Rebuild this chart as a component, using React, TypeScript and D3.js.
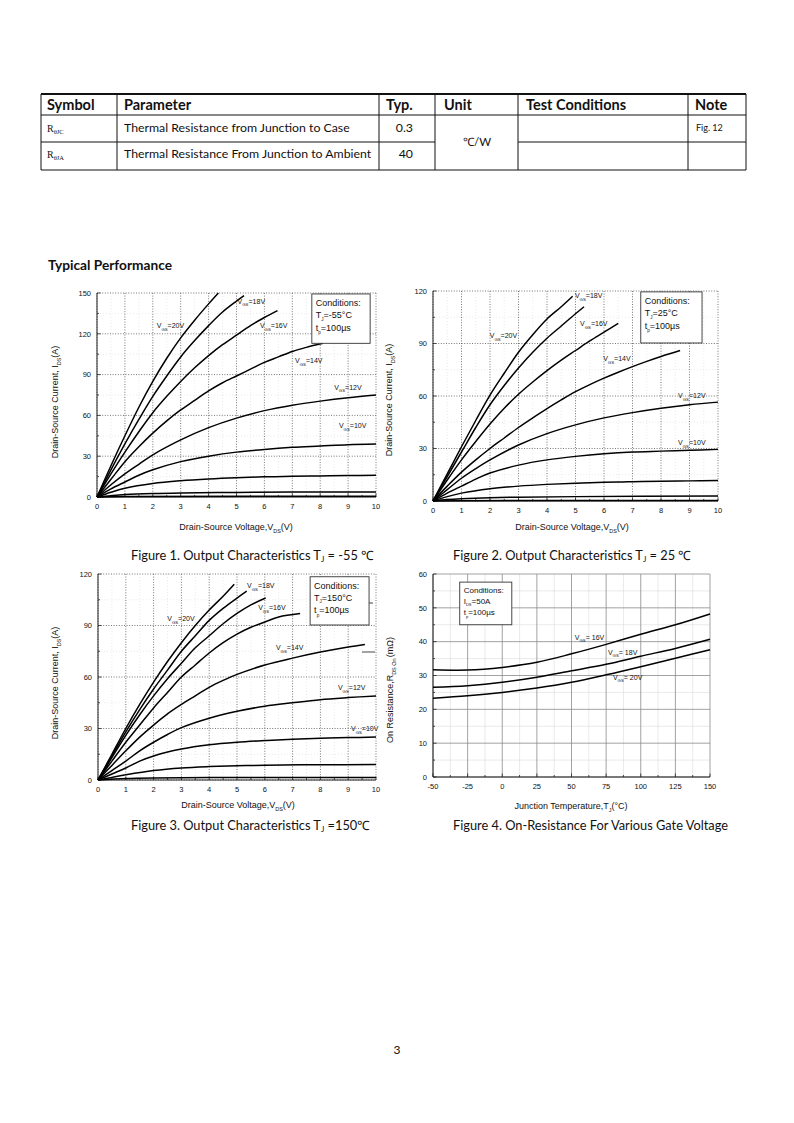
import React from 'react';
import * as d3 from 'd3';

type Pt = [number, number];

// ---------- Table ----------
const tableHeaders = ['Symbol', 'Parameter', 'Typ.', 'Unit', 'Test Conditions', 'Note'];
const tableSymbols = ['θJC', 'θJA'];
const tableParams = ['Thermal Resistance from Junction to Case', 'Thermal Resistance From Junction to Ambient'];
const tableTyp = ['0.3', '40'];
const tableUnit = '℃/W';
const tableNotes = ['Fig. 12', ''];

// ---------- Common ticks ----------
const vdsTicks = [0, 1, 2, 3, 4, 5, 6, 7, 8, 9, 10];
const f1YTicks = [0, 30, 60, 90, 120, 150];
const f2YTicks = [0, 30, 60, 90, 120];
const f3YTicks = [0, 30, 60, 90, 120];
const f4XTicks = [-50, -25, 0, 25, 50, 75, 100, 125, 150];
const f4YTicks = [0, 10, 20, 30, 40, 50, 60];

// ---------- Figure 1 (Tj = -55 C) ----------
const f1v20: Pt[] = [[0,0],[0.5,23],[1,45],[1.5,66],[2,85],[2.5,102],[3,117],[3.5,130],[4,142],[4.35,150]];
const f1v18: Pt[] = [[0,0],[0.5,20],[1,39],[1.5,57],[2,74],[2.5,89],[3,103],[3.5,115],[4,126],[4.5,136],[5,144],[5.27,148]];
const f1v16: Pt[] = [[0,0],[0.5,17],[1,33],[1.5,48],[2,62],[2.5,74],[3,85],[3.5,95],[4,104],[4.5,112],[5,119],[5.5,126],[6,132],[6.47,137]];
const f1v14: Pt[] = [[0,0],[0.5,13],[1,26],[1.5,37],[2,47],[2.5,56],[3,64],[3.5,71],[4,78],[4.5,84],[5,89],[5.5,94],[6,99],[6.5,103],[7,107],[7.5,110],[8.1,113]];
const f1v12: Pt[] = [[0,0],[0.5,9],[1,17],[1.5,24],[2,31],[3,42],[4,51],[5,58],[6,63.5],[7,67.5],[8,70.5],[9,73],[10,75]];
const f1v10: Pt[] = [[0,0],[0.5,6],[1,11],[1.5,16],[2,20],[3,26],[4,30],[5,33],[6,35],[7,36.5],[8,37.5],[9,38.5],[10,39]];
const f1v8: Pt[] = [[0,0],[0.5,3.5],[1,6.5],[2,10],[3,12],[4,13.3],[5,14.2],[6,14.8],[7,15.2],[8,15.5],[9,15.8],[10,16]];
const f1v6: Pt[] = [[0,0],[0.5,1],[1,1.8],[2,2.6],[3,3],[5,3.4],[7,3.6],[10,3.7]];
const f1v4: Pt[] = [[0,0],[1,0.3],[10,0.5]];
const f1Labels = [
  { x: 2.14, y: 124, v: '20' }, { x: 5.04, y: 142, v: '18' }, { x: 5.84, y: 124, v: '16' },
  { x: 7.1, y: 98.5, v: '14' }, { x: 8.5, y: 79, v: '12' }, { x: 8.67, y: 50.7, v: '10' },
];
const f1Cond = ['Conditions:', 'T', '=-55°C', 't', '=100µs'];

// ---------- Figure 2 (Tj = 25 C) ----------
const f2v20: Pt[] = [[0,0],[0.5,15.5],[1,31],[1.5,46],[2,60.5],[2.5,73],[3,85],[3.5,95],[4,104],[4.5,111],[4.9,117]];
const f2v18: Pt[] = [[0,0],[0.5,14],[1,28],[1.5,42],[2,55],[2.5,66],[3,76],[3.5,85],[4,93],[4.5,100],[5,107],[5.3,111]];
const f2v16: Pt[] = [[0,0],[0.5,12],[1,23.5],[1.5,34],[2,44],[2.5,53],[3,61],[3.5,68],[4,74.5],[4.5,80.5],[5,86],[5.5,91.5],[6,96.5],[6.5,101.5]];
const f2v14: Pt[] = [[0,0],[0.5,8.5],[1,16.5],[1.5,23.5],[2,30],[2.5,36],[3,42],[3.5,47.5],[4,52.8],[4.5,57.8],[5,62.5],[5.5,66.5],[6,70.2],[6.5,73.6],[7,76.8],[7.5,79.8],[8,82.6],[8.67,86]];
const f2v12: Pt[] = [[0,0],[0.5,6.5],[1,13],[1.5,18.5],[2,23.5],[3,32],[4,38.5],[5,43.5],[6,47.5],[7,50.5],[8,53],[9,55],[10,56.5]];
const f2v10: Pt[] = [[0,0],[0.5,4.5],[1,8.5],[1.5,12.5],[2,16],[3,20.5],[4,23.5],[5,25.5],[6,27],[7,28],[8,28.5],[9,29],[10,29.5]];
const f2v8: Pt[] = [[0,0],[0.5,2.5],[1,4.5],[2,7],[3,8.5],[4,9.5],[5,10.2],[6,10.7],[7,11],[8,11.3],[9,11.5],[10,11.7]];
const f2v6: Pt[] = [[0,0],[0.5,0.8],[1,1.3],[2,1.9],[3,2.2],[5,2.5],[10,2.8]];
const f2v4: Pt[] = [[0,0],[1,0.2],[10,0.3]];
const f2Labels = [
  { x: 1.99, y: 93, v: '20' }, { x: 4.98, y: 115.8, v: '18' }, { x: 5.16, y: 99.9, v: '16' },
  { x: 5.97, y: 79.9, v: '14' }, { x: 8.6, y: 58.8, v: '12' }, { x: 8.6, y: 32, v: '10' },
];
const f2Cond = ['Conditions:', 'T', '=25°C', 't', '=100µs'];

// ---------- Figure 3 (Tj = 150 C) ----------
const f3v20: Pt[] = [[0,0],[0.5,15],[1,30],[1.5,44],[2,57],[2.5,69],[3,80],[3.5,90],[4,99],[4.5,107],[4.9,114]];
const f3v18: Pt[] = [[0,0],[0.5,14],[1,28],[1.5,41],[2,53],[2.5,64],[3,75],[3.5,84],[4,93],[4.5,100],[5,106],[5.35,110]];
const f3v16: Pt[] = [[0,0],[0.5,13],[1,26],[1.5,38],[2,49],[2.5,59],[3,68],[3.5,77],[4,84],[4.5,91],[5,97],[5.5,102],[6.03,106]];
const f3v14: Pt[] = [[0,0],[0.5,11],[1,22],[1.5,32],[2,42],[2.5,51],[3,60],[3.5,67],[4,74],[4.5,80],[5,85],[5.5,89],[6,92],[6.5,95],[7.27,97]];
const f3v12: Pt[] = [[0,0],[0.5,8.5],[1,17],[1.5,25],[2,32],[2.5,38.5],[3,44],[3.5,49],[4,54],[4.5,58],[5,61.5],[6,67],[7,71],[8,74.5],[9,77.5],[9.6,79]];
const f3v10: Pt[] = [[0,0],[0.5,5.5],[1,11],[1.5,17],[2,22],[2.5,26.5],[3,30.5],[4,36],[5,40],[6,43],[7,45],[8,46.8],[9,48],[10,49]];
const f3v8: Pt[] = [[0,0],[0.5,3.5],[1,7],[1.5,11],[2,14],[3,18],[4,20.5],[5,22],[6,23],[7,23.8],[8,24.3],[9,24.7],[10,25]];
const f3v6: Pt[] = [[0,0],[0.5,1.5],[1,3],[2,5.5],[3,7],[4,7.8],[5,8.3],[6,8.6],[8,8.9],[10,9]];
const f3v4: Pt[] = [[0,0],[0.5,0.5],[1,0.9],[2,1.2],[4,1.4],[10,1.5]];
const f3Labels = [
  { x: 2.49, y: 92.6, v: '20' }, { x: 5.36, y: 111.8, v: '18' }, { x: 5.76, y: 99, v: '16' },
  { x: 6.4, y: 75.7, v: '14' }, { x: 8.63, y: 52.4, v: '12' }, { x: 9.1, y: 28.5, v: '10' },
];
const f3Cond = ['Conditions:', 'T', '=150°C', 't', '=100µs'];

// ---------- Figure 4 (Rds(on) vs Tj) ----------
const f4Temps = [-50, -25, 0, 25, 50, 75, 100, 125, 150];
const f4v16 = [31.7, 31.6, 32.4, 33.9, 36.4, 39.2, 42.2, 45, 48.2];
const f4v18 = [26.5, 27, 28, 29.5, 31.4, 33.3, 35.7, 38, 40.7];
const f4v20 = [23.3, 24, 25, 26.3, 28, 30.2, 32.6, 35.1, 37.6];
const f4Labels = [
  { x: 52.4, y: 40.5, v: '16' }, { x: 76.3, y: 36.1, v: '18' }, { x: 79.9, y: 28.7, v: '20' },
];
const f4Cond = ['Conditions:', 'I', '=50A', 't', '=100µs'];

const SANS = "'Liberation Sans', Arial, sans-serif";
const CAL = "Lato, 'Open Sans', sans-serif";

function mids(t: number[]) {
  const out: number[] = [];
  for (let i = 0; i < t.length - 1; i++) out.push((t[i] + t[i + 1]) / 2);
  return out;
}

function VLabel({ x, y, v, space = false }: { x: number; y: number; v: string; space?: boolean }) {
  return (
    <text x={x} y={y} fontFamily={SANS} fontSize={7} fill="#111">
      V<tspan dy={2.5} fontSize={4.3}>GS</tspan>
      <tspan dy={-2.5}>{space ? '= ' : '='}{v}V</tspan>
    </text>
  );
}

interface ChartProps {
  px: number; py: number; pw: number; ph: number;
  xTicks: number[]; yTicks: number[];
  curves: Pt[][];
  labels: { x: number; y: number; v: string }[];
  box: [number, number, number, number];
  cond: string[];
  condSub: string;
  condSize: number;
  solidGrid?: boolean;
  yTitle: React.ReactNode; yTitlePos: [number, number];
  xTitle: React.ReactNode; xTitlePos: [number, number];
  spaceLabel?: boolean;
  extras?: React.ReactNode;
}

function Chart(p: ChartProps) {
  const x = d3.scaleLinear().domain([p.xTicks[0], p.xTicks[p.xTicks.length - 1]]).range([p.px, p.px + p.pw]);
  const y = d3.scaleLinear().domain([p.yTicks[0], p.yTicks[p.yTicks.length - 1]]).range([p.py + p.ph, p.py]);
  const line = d3.line<Pt>().x(d => x(d[0])).y(d => y(d[1])).curve(d3.curveCatmullRom.alpha(0.5));
  const xm = mids(p.xTicks);
  const ym = mids(p.yTicks);
  const gridStroke = p.solidGrid ? '#8a8a8a' : '#555';
  const gridDash = p.solidGrid ? undefined : '1,1.6';
  const [bx0, by0, bx1, by1] = p.box;
  const bxL = x(bx0), byT = y(by0), bW = x(bx1) - x(bx0), bH = y(by1) - y(by0);
  const lh = p.condSize * 1.38;
  return (
    <g>
      {/* minor grid */}
      {xm.map((t, i) => (
        <line key={'xm' + i} x1={x(t)} x2={x(t)} y1={p.py} y2={p.py + p.ph} stroke="#dcdcdc" strokeWidth={0.6} strokeDasharray={p.solidGrid ? undefined : '1,2'} />
      ))}
      {ym.map((t, i) => (
        <line key={'ym' + i} y1={y(t)} y2={y(t)} x1={p.px} x2={p.px + p.pw} stroke="#dcdcdc" strokeWidth={0.6} strokeDasharray={p.solidGrid ? undefined : '1,2'} />
      ))}
      {/* major grid */}
      {p.xTicks.map((t, i) => (
        <line key={'xg' + i} x1={x(t)} x2={x(t)} y1={p.py} y2={p.py + p.ph} stroke={gridStroke} strokeWidth={0.8} strokeDasharray={gridDash} />
      ))}
      {p.yTicks.map((t, i) => (
        <line key={'yg' + i} y1={y(t)} y2={y(t)} x1={p.px} x2={p.px + p.pw} stroke={gridStroke} strokeWidth={0.8} strokeDasharray={gridDash} />
      ))}
      {/* axes */}
      <line x1={p.px} x2={p.px} y1={p.py} y2={p.py + p.ph} stroke="#222" strokeWidth={1} />
      <line x1={p.px} x2={p.px + p.pw} y1={p.py + p.ph} y2={p.py + p.ph} stroke="#222" strokeWidth={1} />
      {p.xTicks.map((t, i) => (
        <line key={'xt' + i} x1={x(t)} x2={x(t)} y1={p.py + p.ph} y2={p.py + p.ph - 3.5} stroke="#222" strokeWidth={0.8} />
      ))}
      {xm.map((t, i) => (
        <line key={'xmt' + i} x1={x(t)} x2={x(t)} y1={p.py + p.ph} y2={p.py + p.ph - 2} stroke="#222" strokeWidth={0.8} />
      ))}
      {p.yTicks.map((t, i) => (
        <line key={'yt' + i} x1={p.px} x2={p.px + 3.5} y1={y(t)} y2={y(t)} stroke="#222" strokeWidth={0.8} />
      ))}
      {ym.map((t, i) => (
        <line key={'ymt' + i} x1={p.px} x2={p.px + 2} y1={y(t)} y2={y(t)} stroke="#222" strokeWidth={0.8} />
      ))}
      {/* tick labels */}
      {p.xTicks.map((t, i) => (
        <text key={'xl' + i} x={x(t)} y={p.py + p.ph + 12} textAnchor="middle" fontFamily={SANS} fontSize={7.5} fill="#111">{t}</text>
      ))}
      {p.yTicks.map((t, i) => (
        <text key={'yl' + i} x={p.px - 6} y={y(t) + 2.7} textAnchor="end" fontFamily={SANS} fontSize={7.5} fill="#111">{t}</text>
      ))}
      {/* curves */}
      {p.curves.map((c, i) => (
        <path key={'c' + i} d={line(c) || ''} fill="none" stroke="#000" strokeWidth={1.5} />
      ))}
      {/* labels */}
      {p.labels.map((l, i) => (
        <VLabel key={'l' + i} x={x(l.x)} y={y(l.y)} v={l.v} space={p.spaceLabel} />
      ))}
      {/* conditions box */}
      <rect x={bxL} y={byT} width={bW} height={bH} fill="#fff" stroke="#333" strokeWidth={0.9} />
      <g fontFamily={SANS} fontSize={p.condSize} fill="#111">
        <text x={bxL + 4} y={byT + lh * 0.95}>{p.cond[0]}</text>
        <text x={bxL + 4} y={byT + lh * 1.95}>{p.cond[1]}<tspan dy={2.5} fontSize={p.condSize * 0.5}>{p.condSub}</tspan><tspan dy={-2.5}>{p.cond[2]}</tspan></text>
        <text x={bxL + 4} y={byT + lh * 2.95}>{p.cond[3]}<tspan dy={3.5} fontSize={p.condSize * 0.5}>p</tspan><tspan dy={-3.5}>{p.cond[4]}</tspan></text>
      </g>
      {p.extras}
      {/* axis titles */}
      <text transform={`translate(${p.yTitlePos[0]},${p.yTitlePos[1]}) rotate(-90)`} textAnchor="middle" fontFamily={SANS} fontSize={9} fill="#111">{p.yTitle}</text>
      <text x={p.xTitlePos[0]} y={p.xTitlePos[1]} textAnchor="middle" fontFamily={SANS} fontSize={9} fill="#111">{p.xTitle}</text>
    </g>
  );
}

const idsTitle = (
  <>Drain-Source Current, I<tspan dy={3} fontSize={5.5}>DS</tspan><tspan dy={-3}>(A)</tspan></>
);
const vdsTitle = (
  <>Drain-Source Voltage,V<tspan dy={3} fontSize={5.5}>DS</tspan><tspan dy={-3}>(V)</tspan></>
);

const CAP_SIZE = 12.8;

function Caption({ x, y, pre, post }: { x: number; y: number; pre: string; post: string }) {
  return (
    <text x={x} y={y} fontFamily={CAL} fontSize={CAP_SIZE} fill="#111">
      {pre}<tspan dy={1.5} fontSize={8}>J</tspan><tspan dy={-1.5}>{post}</tspan>
    </text>
  );
}

function Table() {
  const cx = [41, 117, 379, 435, 518, 688, 746];
  const ry = [94, 115, 142, 170];
  return (
    <g>
      <line x1={cx[0]} x2={cx[6]} y1={ry[0]} y2={ry[0]} stroke="#111" strokeWidth={1.8} />
      <line x1={cx[0]} x2={cx[6]} y1={ry[1]} y2={ry[1]} stroke="#111" strokeWidth={1} />
      <line x1={cx[0]} x2={cx[3]} y1={ry[2]} y2={ry[2]} stroke="#111" strokeWidth={1} />
      <line x1={cx[4]} x2={cx[6]} y1={ry[2]} y2={ry[2]} stroke="#111" strokeWidth={1} />
      <line x1={cx[0]} x2={cx[6]} y1={ry[3]} y2={ry[3]} stroke="#111" strokeWidth={1} />
      {cx.map((c, i) => (
        <line key={'v' + i} x1={c} x2={c} y1={ry[0]} y2={ry[3]} stroke="#111" strokeWidth={1} />
      ))}
      <g fontFamily={CAL} fontSize={14.5} fontWeight="bold" fill="#111">
        <text x={47} y={109.5}>{tableHeaders[0]}</text>
        <text x={124} y={109.5}>{tableHeaders[1]}</text>
        <text x={386} y={109.5}>{tableHeaders[2]}</text>
        <text x={444} y={109.5}>{tableHeaders[3]}</text>
        <text x={526} y={109.5}>{tableHeaders[4]}</text>
        <text x={695} y={109.5}>{tableHeaders[5]}</text>
      </g>
      {tableSymbols.map((s, i) => (
        <text key={'s' + i} x={47} y={132 + i * 26} fontFamily="'Liberation Serif', serif" fontSize={10} fill="#111">
          R<tspan dy={1.5} fontSize={6.5}>{s}</tspan>
        </text>
      ))}
      {tableParams.map((s, i) => (
        <text key={'p' + i} x={124} y={132 + i * 26} fontFamily={CAL} fontSize={12.3} fill="#111">{s}</text>
      ))}
      {tableTyp.map((s, i) => (
        <text key={'t' + i} x={413} y={132 + i * 26} textAnchor="end" fontFamily={CAL} fontSize={12.3} fill="#111">{s}</text>
      ))}
      <text x={477} y={146} textAnchor="middle" fontFamily={CAL} fontSize={11.5} fill="#111">{tableUnit}</text>
      {tableNotes.map((s, i) => (
        <text key={'n' + i} x={696} y={131 + i * 26} fontFamily={CAL} fontSize={9} fill="#111">{s}</text>
      ))}
    </g>
  );
}

export default function App() {
  const f4Curves: Pt[][] = [f4v16, f4v18, f4v20].map(arr => arr.map((v, i) => [f4Temps[i], v] as Pt));
  return (
    <svg width={794} height={1123} viewBox="0 0 794 1123" style={{ position: 'absolute', left: 0, top: 0, background: '#fff' }}>
      <rect x={0} y={0} width={794} height={1123} fill="#fff" />
      <Table />
      <text x={48} y={270} fontFamily={CAL} fontSize={13.7} fontWeight="bold" fill="#111">Typical Performance</text>

      <Chart px={97} py={293} pw={279} ph={204} xTicks={vdsTicks} yTicks={f1YTicks}
        curves={[f1v20, f1v18, f1v16, f1v14, f1v12, f1v10, f1v8, f1v6, f1v4]}
        labels={f1Labels} box={[7.7, 149.3, 9.79, 113]} cond={f1Cond} condSub="J" condSize={9}
        yTitle={idsTitle} yTitlePos={[58, 402]} xTitle={vdsTitle} xTitlePos={[236, 530]} />

      <Chart px={433} py={291} pw={285} ph={210} xTicks={vdsTicks} yTicks={f2YTicks}
        curves={[f2v20, f2v18, f2v16, f2v14, f2v12, f2v10, f2v8, f2v6, f2v4]}
        labels={f2Labels} box={[7.29, 119.5, 9.44, 90.3]} cond={f2Cond} condSub="J" condSize={9}
        yTitle={idsTitle} yTitlePos={[392, 400]} xTitle={vdsTitle} xTitlePos={[572, 530]} />

      <Chart px={98} py={574} pw={278} ph={206} xTicks={vdsTicks} yTicks={f3YTicks}
        curves={[f3v20, f3v18, f3v16, f3v14, f3v12, f3v10, f3v8, f3v6, f3v4]}
        labels={f3Labels} box={[7.63, 118.4, 9.75, 90.3]} cond={f3Cond} condSub="J" condSize={9}
        yTitle={idsTitle} yTitlePos={[58, 683]} xTitle={vdsTitle} xTitlePos={[238, 808]}
        extras={<g stroke="#333" strokeWidth={0.9}><line x1={369} x2={373} y1={603} y2={603} /><line x1={362} x2={375} y1={652} y2={652} /></g>} />

      <Chart px={433} py={574} pw={277} ph={203} xTicks={f4XTicks} yTicks={f4YTicks}
        curves={f4Curves} solidGrid spaceLabel
        labels={f4Labels} box={[-30.7, 57.6, 6.9, 45]} cond={f4Cond} condSub="DS" condSize={8}
        yTitle={<>On Resistance,R<tspan dy={3} fontSize={5.5}>DS On</tspan><tspan dy={-3} dx={1}>(mΩ)</tspan></>} yTitlePos={[393, 690]}
        xTitle={<>Junction Temperature,T<tspan dy={3} fontSize={5.5}>J</tspan><tspan dy={-3}>(°C)</tspan></>} xTitlePos={[571, 809]} />

      <Caption x={131} y={560} pre="Figure 1. Output Characteristics T" post=" = -55 ℃" />
      <Caption x={453} y={560} pre="Figure 2. Output Characteristics T" post=" = 25 ℃" />
      <Caption x={131} y={830} pre="Figure 3. Output Characteristics T" post=" =150℃" />
      <text x={453} y={830} fontFamily={CAL} fontSize={CAP_SIZE} fill="#111">Figure 4. On-Resistance For Various Gate Voltage</text>

      <text x={397} y={1054} textAnchor="middle" fontFamily={CAL} fontSize={12} fill="#111">3</text>
    </svg>
  );
}
